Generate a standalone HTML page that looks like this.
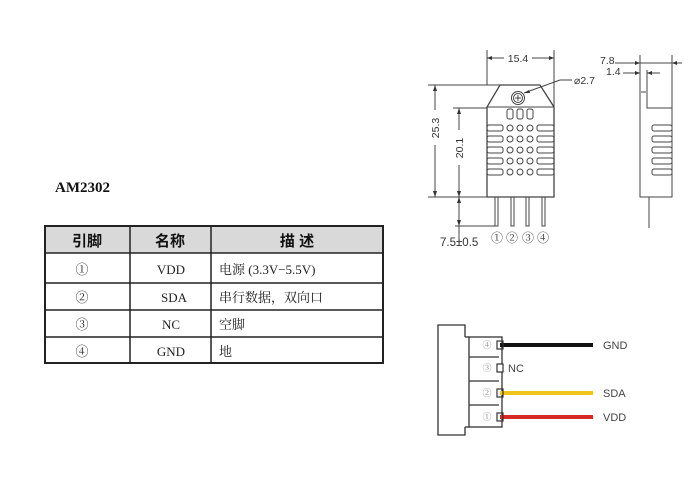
<!DOCTYPE html>
<html><head><meta charset="utf-8"><style>
html,body{margin:0;padding:0;background:#fff;width:700px;height:477px;overflow:hidden}
svg{display:block}
.s{font-family:"Liberation Sans","Noto Sans CJK SC",sans-serif}
.r{font-family:"Liberation Serif","Noto Serif CJK SC","Noto Sans CJK SC",serif}
</style></head><body>
<svg width="700" height="477" viewBox="0 0 700 477" xmlns="http://www.w3.org/2000/svg">
<!-- AM2302 title -->
<text x="55" y="192" class="r" font-size="15" font-weight="bold" fill="#111">AM2302</text>
<!-- table -->
<rect x="45" y="226" width="338" height="27" fill="#d9d9d9"/>
<g stroke="#222" fill="none">
<rect x="45" y="226" width="338" height="137" stroke-width="2"/>
<line x1="45" y1="253" x2="383" y2="253" stroke-width="1.5"/>
<line x1="45" y1="283" x2="383" y2="283" stroke-width="1.5"/>
<line x1="45" y1="310" x2="383" y2="310" stroke-width="1.5"/>
<line x1="45" y1="337" x2="383" y2="337" stroke-width="1.5"/>
<line x1="130" y1="226" x2="130" y2="363" stroke-width="1.5"/>
<line x1="211" y1="226" x2="211" y2="363" stroke-width="1.5"/>
</g>
<g class="s" font-size="15" font-weight="bold" fill="#111" text-anchor="middle">
<text x="87" y="246">引脚</text><text x="170" y="246">名称</text><text x="297" y="246">描 述</text>
</g>
<g class="r" font-size="13" fill="#222">
<text x="82" y="274" text-anchor="middle">①</text><text x="82" y="302" text-anchor="middle">②</text>
<text x="82" y="329" text-anchor="middle">③</text><text x="82" y="356" text-anchor="middle">④</text>
<text x="171" y="274" text-anchor="middle">VDD</text><text x="174" y="302" text-anchor="middle">SDA</text>
<text x="171" y="329" text-anchor="middle">NC</text><text x="171" y="356" text-anchor="middle">GND</text>
<text x="219" y="274">电源 (3.3V−5.5V)</text><text x="219" y="302">串行数据，双向口</text>
<text x="219" y="329">空脚</text><text x="219" y="356">地</text>
</g>

<!-- front view -->
<g stroke="#444" fill="none" stroke-width="1">
<path d="M487,197 V107 L500,85 H540 L554,107 V197 Z" stroke-width="1.3"/>
<line x1="487" y1="107" x2="554" y2="107"/>
<circle cx="518" cy="98" r="6.5"/><circle cx="518" cy="98" r="4.5"/>
<path d="M515,98h6M518,95v6"/>
<!-- top slots -->
<rect x="507" y="109" width="6" height="10" rx="2"/><rect x="517" y="109" width="6" height="10" rx="2"/><rect x="527" y="109" width="6" height="10" rx="2"/>
<g id="row">
<rect x="487" y="125" width="16" height="6" rx="2"/>
<rect x="507" y="125" width="6" height="6" rx="3"/><rect x="517" y="125" width="6" height="6" rx="3"/><rect x="527" y="125" width="6" height="6" rx="3"/>
<rect x="537" y="125" width="17" height="6" rx="2"/>
</g>
<use href="#row" y="11"/><use href="#row" y="22"/><use href="#row" y="33"/><use href="#row" y="44"/>
<!-- pins -->
<rect x="495" y="197" width="3" height="29"/><rect x="511" y="197" width="3" height="29"/><rect x="526" y="197" width="3" height="29"/><rect x="542" y="197" width="3" height="29"/>
<!-- dims -->
<line x1="487" y1="50" x2="487" y2="85"/><line x1="554" y1="50" x2="554" y2="107"/>
<line x1="487" y1="58" x2="504" y2="58"/><line x1="532" y1="58" x2="554" y2="58"/>
<line x1="428" y1="85" x2="500" y2="85"/><line x1="428" y1="197" x2="487" y2="197"/>
<line x1="435" y1="85" x2="435" y2="110"/><line x1="435" y1="145" x2="435" y2="197"/>
<line x1="453" y1="108" x2="487" y2="108"/><line x1="459" y1="108" x2="459" y2="130"/><line x1="459" y1="165" x2="459" y2="246"/>
<line x1="455" y1="226" x2="495" y2="226"/>
<path d="M524,93 L560,80 H572"/>
</g>
<g fill="#333">
<path d="M487,58l5,-2v4z M554,58l-5,-2v4z M435,85l-2,6h4z M435,197l-2,-6h4z M459,108l-2,6h4z M459,197l-2,-6h4z M459,197l-2,6h4z M459,226l-2,-6h4z M524,93l5,-3l1,3z"/>
</g>
<g class="s" fill="#333" font-size="10.5">
<text x="518" y="62" text-anchor="middle">15.4</text>
<text x="574" y="84">⌀2.7</text>
<text transform="translate(439,128) rotate(-90)" text-anchor="middle">25.3</text>
<text transform="translate(463,148) rotate(-90)" text-anchor="middle">20.1</text>
<text x="440" y="246" font-size="11.5">7.5±0.5</text>
<text x="600" y="64">7.8</text><text x="606" y="75">1.4</text>
</g>
<g class="r" fill="#333" font-size="12" text-anchor="middle">
<text x="497" y="242">①</text><text x="512" y="242">②</text><text x="528" y="242">③</text><text x="543" y="242">④</text>
</g>
<!-- side view -->
<g stroke="#444" fill="none" stroke-width="1">
<path d="M640,85 V197 H672 V108 H647 V85"/>
<line x1="640" y1="85" x2="640" y2="55"/><line x1="672" y1="55" x2="672" y2="108"/><line x1="647" y1="70" x2="647" y2="85"/>
<line x1="615" y1="63" x2="640" y2="63"/><line x1="640" y1="63" x2="672" y2="63"/><line x1="672" y1="63" x2="682" y2="63"/>
<line x1="623" y1="73" x2="640" y2="73"/><line x1="647" y1="73" x2="660" y2="73"/>
<rect x="652" y="125" width="20" height="6" rx="2"/><rect x="652" y="136" width="20" height="6" rx="2"/><rect x="652" y="147" width="20" height="6" rx="2"/><rect x="652" y="158" width="20" height="6" rx="2"/><rect x="652" y="169" width="20" height="6" rx="2"/>
<line x1="649" y1="197" x2="649" y2="228"/><line x1="641" y1="92" x2="646" y2="92"/>
</g>
<g fill="#333"><path d="M640,63l-5,-2v4z M672,63l5,-2v4z M640,73l-5,-2v4z M647,73l5,-2v4z"/></g>

<!-- connector -->
<g stroke="#333" fill="none" stroke-width="1.3">
<path d="M465,337 V325 H438 V435 H465 V427"/>
<rect x="469" y="337" width="33" height="90"/>
<line x1="465" y1="337" x2="469" y2="337"/><line x1="465" y1="427" x2="469" y2="427"/>
<line x1="469" y1="357" x2="499" y2="357"/><line x1="469" y1="381" x2="499" y2="381"/><line x1="469" y1="405" x2="499" y2="405"/>
</g>
<g stroke-linecap="butt">
<line x1="500" y1="345" x2="593" y2="345" stroke="#111" stroke-width="4"/>
<line x1="500" y1="393" x2="593" y2="393" stroke="#f0c419" stroke-width="4"/>
<line x1="500" y1="417" x2="593" y2="417" stroke="#d42a23" stroke-width="4"/>
</g>
<g stroke="#333" fill="#fff" stroke-width="1.2">
<rect x="497" y="341" width="6" height="8" fill="none"/><rect x="497" y="364" width="6" height="8"/>
<rect x="497" y="389" width="6" height="8" fill="none"/><rect x="497" y="413" width="6" height="8" fill="none"/>
</g>
<g class="r" fill="#888" font-size="9" text-anchor="middle">
<text x="487" y="348">④</text><text x="487" y="371">③</text><text x="487" y="396">②</text><text x="487" y="420">①</text>
</g>
<g class="s" fill="#444" font-size="11">
<text x="603" y="349">GND</text><text x="508" y="372">NC</text><text x="603" y="397">SDA</text><text x="603" y="421">VDD</text>
</g>
</svg>
</body></html>
